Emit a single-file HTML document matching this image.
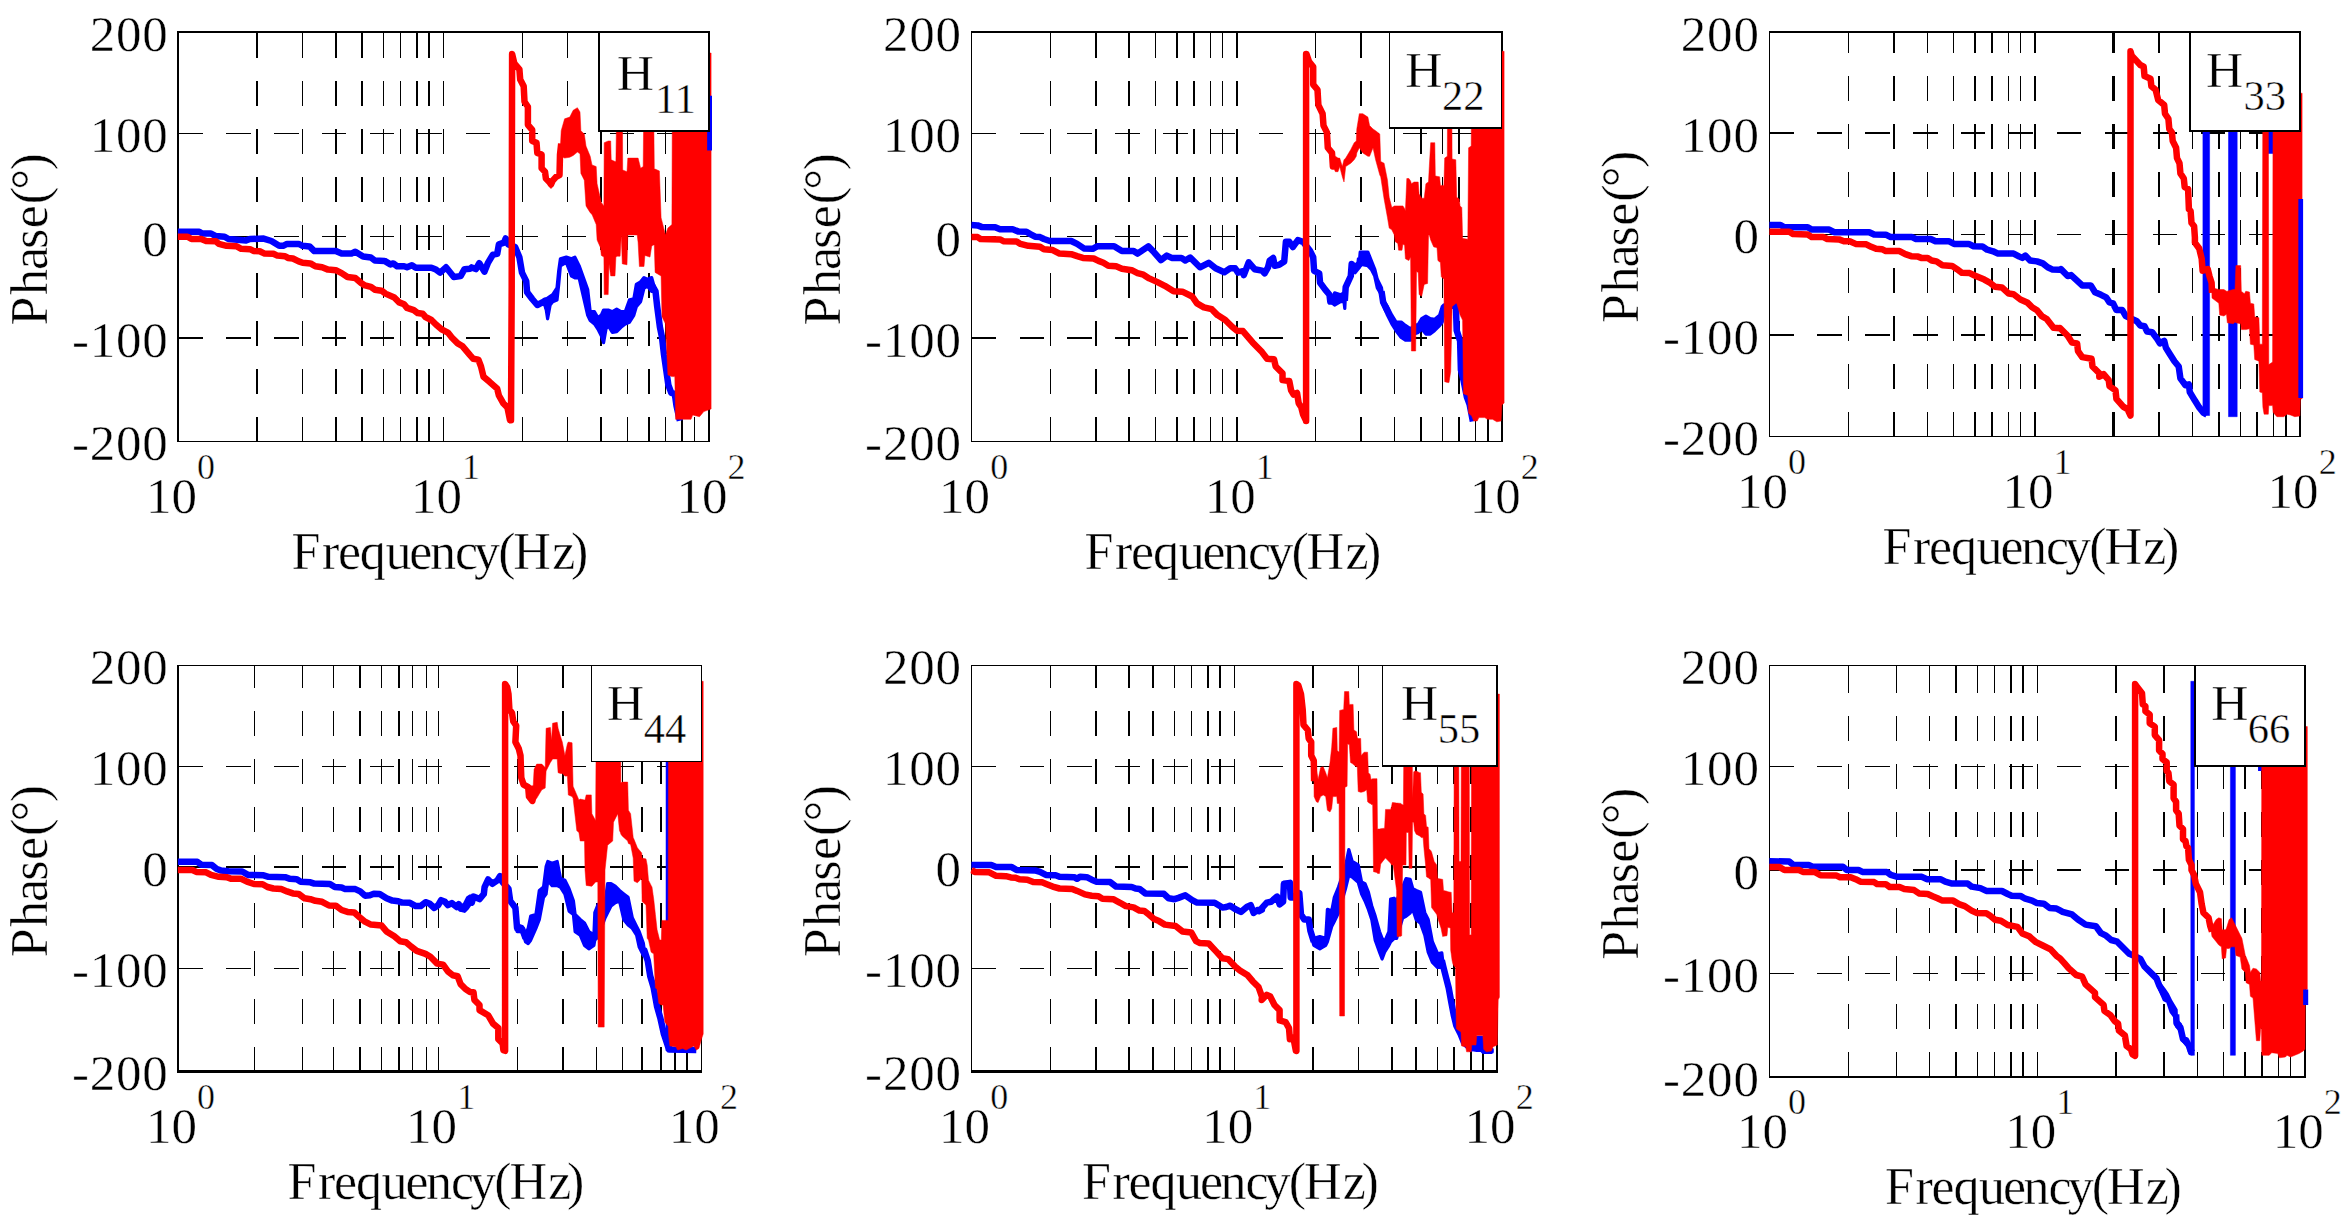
<!DOCTYPE html>
<html><head><meta charset="utf-8"><title>Phase plots</title>
<style>html,body{margin:0;padding:0;background:#fff}svg{display:block}text{font-family:"Liberation Serif", "DejaVu Serif", serif;fill:#000;stroke:#fff;stroke-width:0.45px;paint-order:fill stroke}</style></head><body>
<svg width="2351" height="1230" viewBox="0 0 2351 1230">
<rect width="2351" height="1230" fill="#fff"/>
<g id="plot1">
<g stroke="#000" shape-rendering="crispEdges" stroke-dasharray="24.8 23.2" stroke-dashoffset="47.1" fill="none"><line x1="257.1" y1="32.1" x2="257.1" y2="441.3" stroke-width="2.1"/><line x1="302.5" y1="32.1" x2="302.5" y2="441.3" stroke-width="1.25"/><line x1="336" y1="32.1" x2="336" y2="441.3" stroke-width="2.1"/><line x1="361.9" y1="32.1" x2="361.9" y2="441.3" stroke-width="2.1"/><line x1="383.6" y1="32.1" x2="383.6" y2="441.3" stroke-width="1.25"/><line x1="400.4" y1="32.1" x2="400.4" y2="441.3" stroke-width="1.25"/><line x1="416.7" y1="32.1" x2="416.7" y2="441.3" stroke-width="2.1"/><line x1="429" y1="32.1" x2="429" y2="441.3" stroke-width="2.1"/><line x1="443.5" y1="32.1" x2="443.5" y2="441.3" stroke-width="1.25"/><line x1="522.4" y1="32.1" x2="522.4" y2="441.3" stroke-width="1.25"/><line x1="567.5" y1="32.1" x2="567.5" y2="441.3" stroke-width="1.25"/><line x1="600.9" y1="32.1" x2="600.9" y2="441.3" stroke-width="2.1"/><line x1="627.4" y1="32.1" x2="627.4" y2="441.3" stroke-width="1.25"/><line x1="649.4" y1="32.1" x2="649.4" y2="441.3" stroke-width="2.1"/><line x1="665.4" y1="32.1" x2="665.4" y2="441.3" stroke-width="1.25"/><line x1="681.9" y1="32.1" x2="681.9" y2="441.3" stroke-width="1.25"/><line x1="694.4" y1="32.1" x2="694.4" y2="441.3" stroke-width="1.25"/></g>
<g stroke="#000" shape-rendering="crispEdges" stroke-width="1.5" stroke-dasharray="24.3 23.6" fill="none"><line x1="178.4" y1="133.3" x2="709" y2="133.3"/><line x1="178.4" y1="236.7" x2="709" y2="236.7"/><line x1="178.4" y1="337.9" x2="709" y2="337.9"/></g>
<g stroke="#000" shape-rendering="crispEdges"><line x1="178.4" y1="32.1" x2="178.4" y2="441.3" stroke-width="2"/><line x1="709" y1="32.1" x2="709" y2="441.3" stroke-width="1.5"/><line x1="177.4" y1="32.1" x2="709.8" y2="32.1" stroke-width="2"/><line x1="177.4" y1="441.3" x2="709.8" y2="441.3" stroke-width="1.5"/></g>
<clipPath id="c1"><rect x="177.4" y="32.1" width="534.6" height="409.2"/></clipPath>
<g clip-path="url(#c1)" stroke-width="6.5" stroke-linejoin="round" stroke-linecap="butt">
<path d="M542.4,302.4 545,299.8 547.6,298.1 550.1,296.4 552.7,294.7 557,287.8 558.7,270.7 560.4,258.8 566.3,257.1 571.5,258.8 574.9,257.1 579.1,265.6 583.4,277.6 587.7,289.5 590.2,311.7 594.5,311.7 597.9,317.7 601.3,315.1 603.6,310 606,310 608.2,310 612.4,311.7 616.7,309.2 621,311.7 625.2,311.7 629.5,299.8 633.8,298.9 636.3,284.4 640.6,281.8 644,277.6 647.4,279.3 651.7,277.6 655.5,291.3 655.5,291.3 651.7,291.5 647.4,286.3 644,288 640.6,301.7 636.3,306.8 633.8,315.4 629.5,322.2 625.2,323.9 621,327.3 616.7,331.6 612.4,332.4 608.2,325.6 606,329 603.6,342.7 601.3,335.8 597.9,329 594.5,323.9 590.2,320.5 587.7,315.4 583.4,296.6 579.1,277.8 574.9,277.8 571.5,276.1 566.3,262.4 560.4,265.8 558.7,284.6 557,300 552.7,301.7 550.1,305.1 547.6,318.8 545,301.7 542.4,302.4Z" fill="#0000ff" stroke="#0000ff" stroke-width="3.2"/>
<path d="M177.8,231.8 199.3,231.8 202.2,233.5 211,233.5 215.8,236.1 224.6,236.7 228.5,239 240.2,240 246.1,240.4 250,239 263.6,238.6 271.4,241 279.2,245.8 283.1,245.8 287,243.9 298.7,243.9 302.6,245.8 309.5,246.4 314.3,251.1 335.8,251.1 341.6,253.6 351.4,253.6 355.3,251.7 363.1,256.6 370.9,257.5 374.8,260.5 384.6,260.9 390.4,264.4 393.3,263.4 397.2,266.3 404.1,266.3 407,267.3 411.9,265.3 415.8,267.7 431.4,267.7 435.3,269.2 440.1,272.6 446,267.3 453.8,277 460.6,276.1 464.5,269.2 470,268.7 471.6,267.4 475.9,269.1 479.3,263.2 484.4,271.7 487.8,263.2 492.9,254.6 497.2,253.8 498.9,244.4 504,242.7 505.7,238.4 508.3,244.4 515.1,247 519.4,257.2 522,272.6 526.2,281.1 527.1,292.2 532.2,299 537.3,305 542.4,302.4 545,300.7 547.6,308.4M560.4,262.3 566.3,259.8 571.5,267.4M651.7,284.5 655.5,291.3 657.2,306.7 659.9,327.2 662,337.4 664,354.5 666.2,369.9 668.4,385.2 671.3,392.9 674.8,393.8 676.5,405.7 679.9,420.8" fill="none" stroke="#0000ff"/>
<path d="M545.9,178.5 549.3,180.2 551,180.2 552.7,179.4 556.1,176.8 556.1,176.8 552.7,182 551,188.8 549.3,183.7 545.9,178.5ZM560,154.6 561.2,130.7 564.6,118.8 569.8,117.1 573.2,110.2 577.4,107.7 580,112 580.9,130.7 584.3,134.1 586,146.1 590.2,156.3 592,164.9 596.2,166.6 597.1,183.7 600.5,199 601.3,202.4 603.9,205.9 604.2,142.7 608.2,141 609,141 610.7,141 611.2,159.8 615,161.5 615.9,161.5 617.1,81.2 620.1,81.2 621.3,81.2 622.3,81.2 622.7,170 627,171.7 627.8,158.1 637.2,158.1 638.1,158.1 639.4,163.2 640.6,168.3 643.2,166.6 644,81.2 644.9,81.2 650,81.2 651.7,81.2 653.4,81.2 654.3,169.1 655.1,169.1 659.4,170.9 661.1,217.8 662,221.2 665.4,234.9 667.9,228.1 671.9,224.6 672.5,53 674.8,53 675.6,53 691,53 692.7,53 699.5,53 703.8,53 711.1,53 711.1,409 703.8,411.6 699.5,416.7 692.7,415 691,419.3 675.6,419.3 674.8,376.6 672.5,376.6 671.9,376.6 667.9,374.9 665.4,323.7 662,316.8 661.1,275.9 659.4,275 655.1,272.4 654.3,245.1 653.4,245.1 651.7,246 650,257.1 644.9,255.4 644,266.5 643.2,266.5 640.6,266.5 639.4,266.5 638.1,242.6 637.2,234.9 627.8,234.9 627,264.8 622.7,263.9 622.3,263.9 621.3,234.9 620.1,256.2 617.1,256.2 615.9,257.1 615,275.9 611.2,275.9 610.7,275.9 609,263.9 608.2,294.6 604.2,294.6 603.9,257.1 601.3,255.4 600.5,247.7 597.1,240 596.2,224.6 592,214.4 590.2,212.7 586,205.9 584.3,180.2 580.9,173.4 580,153.8 577.4,152.1 573.2,155.5 569.8,157.2 564.6,158.1 561.2,156.3 560,154.6Z" fill="#ff0000" stroke="#ff0000" stroke-width="0.5"/>
<path d="M177.8,236.7 187.6,236.7 191.5,239 201.2,239 206.1,241 215.8,241.3 218.8,243.9 226.6,245.8 236.3,246.2 241.2,248.8 250,249.2 253.9,251.1 259.7,251.3 264.6,253.6 273.4,253.8 277.3,255.6 285.1,256.2 288,257.9 292.9,258.5 298.7,261.4 302.6,262.8 310.4,263.4 315.3,266.3 322.1,267.3 328,269.6 335.8,270.2 341.6,273.1 347.5,277 355.3,278 361.1,282.9 365,285.4 370.9,286.8 374.8,289.7 381.6,290.7 385.5,293.6 394.3,297.5 399.2,302.4 404.1,304.3 407,307.9 413.8,310.2 417.7,313.1 422.6,313.7 425.5,317 431.4,320 436.2,324.8 442.1,329.7 447.9,332.6 451.8,337.5 457.7,343.4 462.6,346.3 470,355.1 473.3,358.8 478.4,359.6 481,366.5 483.5,376.7 489.5,381.8 497.2,388.7 498.9,395.5 503.2,403.2 507.4,407.4 510,420.2 511,420.2 511.7,286.1 512.1,53.9 514.3,63.3 519.4,69.3 520.2,79.5 523.7,86.3 524.5,101.7 527.9,106.8 527.9,124.8 532.2,129.9 532.2,141 536.5,142.7 537.3,152.9 541.6,154.6 541.6,168.3 545,171.7 545.9,178.5 549.3,182 551,184.5 552.7,180.7 556.1,176.8 559.5,175.1 560,154.6 561.2,143.5" fill="none" stroke="#ff0000"/>
<path d="M710.4,95.7 710.4,150.4" fill="none" stroke="#0000ff"/>
</g>
<rect x="598.9" y="32.1" width="110.1" height="98.9" fill="#fff"/>
<g stroke="#000" shape-rendering="crispEdges"><line x1="598.9" y1="32.1" x2="598.9" y2="131" stroke-width="1.5"/><line x1="598.1" y1="32.1" x2="710" y2="32.1" stroke-width="1.5"/><line x1="709" y1="32.1" x2="709" y2="131" stroke-width="2"/><line x1="598.1" y1="131" x2="710" y2="131" stroke-width="2.5"/></g>
<text x="616.7" y="90" font-size="51.5">H</text>
<text x="655" y="113.2" font-size="42.5">11</text>
<text x="168.6" y="50.9" font-size="51" text-anchor="end" letter-spacing="0.8">200</text>
<text x="168.6" y="152.1" font-size="51" text-anchor="end" letter-spacing="0.8">100</text>
<text x="168.6" y="255.5" font-size="51" text-anchor="end" letter-spacing="0.8">0</text>
<text x="168.6" y="356.7" font-size="51" text-anchor="end" letter-spacing="0.8">-100</text>
<text x="168.6" y="460.1" font-size="51" text-anchor="end" letter-spacing="0.8">-200</text>
<text x="145.9" y="512.9" font-size="51">10</text>
<text x="197" y="478.9" font-size="36">0</text>
<text x="411" y="512.9" font-size="51">10</text>
<text x="462.1" y="478.9" font-size="36">1</text>
<text x="676.5" y="512.9" font-size="51">10</text>
<text x="727.6" y="478.9" font-size="36">2</text>
<text x="291.4 321.9 337.9 359.8 385.5 409.3 429.9 454.9 474 498.2 513.3 552.2 570.9" y="568.8" font-size="52">Frequency(Hz)</text>
<text transform="translate(46.8 325.4) rotate(-90)" x="0 30.3 55.3 76.5 97.1 121.1 135.6 154.9" y="0" font-size="52">Phase(°)</text>
</g>
<g id="plot2">
<g stroke="#000" shape-rendering="crispEdges" stroke-dasharray="24.8 23.2" stroke-dashoffset="47.1" fill="none"><line x1="1050.4" y1="32.1" x2="1050.4" y2="441.3" stroke-width="1.25"/><line x1="1095.9" y1="32.1" x2="1095.9" y2="441.3" stroke-width="2.1"/><line x1="1129" y1="32.1" x2="1129" y2="441.3" stroke-width="2.1"/><line x1="1155.4" y1="32.1" x2="1155.4" y2="441.3" stroke-width="1.25"/><line x1="1177" y1="32.1" x2="1177" y2="441.3" stroke-width="2.1"/><line x1="1194" y1="32.1" x2="1194" y2="441.3" stroke-width="2.1"/><line x1="1210.2" y1="32.1" x2="1210.2" y2="441.3" stroke-width="1.25"/><line x1="1222.5" y1="32.1" x2="1222.5" y2="441.3" stroke-width="1.25"/><line x1="1237.2" y1="32.1" x2="1237.2" y2="441.3" stroke-width="2.1"/><line x1="1315.7" y1="32.1" x2="1315.7" y2="441.3" stroke-width="1.25"/><line x1="1360.8" y1="32.1" x2="1360.8" y2="441.3" stroke-width="2.1"/><line x1="1394.6" y1="32.1" x2="1394.6" y2="441.3" stroke-width="1.25"/><line x1="1421" y1="32.1" x2="1421" y2="441.3" stroke-width="2.1"/><line x1="1442.4" y1="32.1" x2="1442.4" y2="441.3" stroke-width="1.25"/><line x1="1459.2" y1="32.1" x2="1459.2" y2="441.3" stroke-width="2.1"/><line x1="1475.6" y1="32.1" x2="1475.6" y2="441.3" stroke-width="1.25"/><line x1="1488.1" y1="32.1" x2="1488.1" y2="441.3" stroke-width="1.25"/></g>
<g stroke="#000" shape-rendering="crispEdges" stroke-width="1.5" stroke-dasharray="24.3 23.6" fill="none"><line x1="971.6" y1="133.3" x2="1502.2" y2="133.3"/><line x1="971.6" y1="236.7" x2="1502.2" y2="236.7"/><line x1="971.6" y1="337.9" x2="1502.2" y2="337.9"/></g>
<g stroke="#000" shape-rendering="crispEdges"><line x1="971.6" y1="32.1" x2="971.6" y2="441.3" stroke-width="1.2"/><line x1="1502.2" y1="32.1" x2="1502.2" y2="441.3" stroke-width="2"/><line x1="971" y1="32.1" x2="1503.2" y2="32.1" stroke-width="2"/><line x1="971" y1="441.3" x2="1503.2" y2="441.3" stroke-width="1.5"/></g>
<clipPath id="c2"><rect x="970.6" y="32.1" width="534.6" height="409.2"/></clipPath>
<g clip-path="url(#c2)" stroke-width="6.5" stroke-linejoin="round" stroke-linecap="butt">
<path d="M1330.3,301.6 1334.6,292.9 1340.6,294.7 1344,292.9 1344.8,292.9 1345.7,284.4 1350.8,276 1350.8,276 1345.7,289.7 1344.8,308.5 1344,301.7 1340.6,301.7 1334.6,305.1 1330.3,301.6ZM1351.7,264 1355.1,264.8 1359.3,262.2 1360.2,252 1367.9,252 1371.3,260.5 1374.7,269 1377.3,279.3 1381.5,287.8 1383.2,299.8 1387.5,306.6 1391.8,315.1 1396.1,322 1401.2,322 1405.4,325.4 1410.6,328.8 1414,325.4 1418.2,324.5 1421.7,318.6 1425.9,316 1430.2,318.6 1434.5,319.4 1439.6,315.1 1442.2,306.6 1443.9,304.9 1453.2,305 1453.2,305 1443.9,313.6 1442.2,322.2 1439.6,325.6 1434.5,330.7 1430.2,334.1 1425.9,334.1 1421.7,329 1418.2,332.4 1414,334.1 1410.6,340.1 1405.4,340.1 1401.2,337.5 1396.1,330.7 1391.8,323.9 1387.5,315.4 1383.2,305.1 1381.5,294.9 1377.3,288 1374.7,276.1 1371.3,269.3 1367.9,265.8 1360.2,264.1 1359.3,267.5 1355.1,272.7 1351.7,264Z" fill="#0000ff" stroke="#0000ff" stroke-width="3.2"/>
<path d="M971.4,225 977.6,225.4 981.5,226.9 995.2,227.3 1000,229.3 1012.7,229.3 1018.6,231.6 1026.4,231.8 1030.3,234.1 1035.1,236.7 1040,237.1 1043.9,239 1049.8,241 1071.2,241 1077.1,243.9 1083.9,248.4 1092.7,248.8 1097.6,246.2 1114.1,246.2 1121.9,251.1 1133.6,251.1 1137.5,253.6 1148.3,246.4 1154.1,252.3 1160.9,260.1 1166.8,255.6 1171.7,257.9 1181.4,257.9 1185.3,260.5 1190.2,257.5 1200,267.3 1208.7,262.8 1215.6,268.3 1224.3,272.2 1230.2,268.3 1235.1,268.3 1238,272.6 1242.9,271.2 1243.8,275.1 1248.7,262.4 1254.6,269.2 1262,270.6 1264.6,273.4 1268,267.4 1269.7,260.6 1273.1,258 1274.8,265.7 1279.1,264.9 1284.2,261.5 1285.9,241.8 1289.3,241.8 1292.8,247 1297.9,240.1 1303,241.8 1309.8,250.4 1313.2,257.2 1314.1,270.9 1319.2,273.4 1320.1,282.8 1325.2,289.6 1329.5,294.8 1330.3,301.6 1334.6,299M1344.8,300.7 1345.7,287.1 1350.8,276 1351.7,264 1355.1,268.7 1359.3,264.9 1360.2,258M1381.5,291.3 1383.2,302.4 1387.5,311M1443.9,309.3 1453.2,305 1455.8,303.3 1456.7,330.6 1460.1,340.9 1460.9,369.9 1463.5,380.1 1466.9,397.2 1469.5,404 1472.9,421.4" fill="none" stroke="#0000ff"/>
<path d="M1332.9,166.6 1335.4,156.3 1338,158.1 1339.7,158.1 1342.3,166.6 1344,159.8 1345.7,158.1 1350.8,149.5 1354.2,142.7 1356.3,141 1356.8,129 1359.3,113.7 1362.8,113.7 1367.9,117.1 1369.6,125.6 1373,129 1375.6,130.7 1379.8,134.1 1380.7,161.5 1384.1,163.2 1387.5,180.2 1389.2,197.3 1391.8,207.6 1394.3,205.9 1395.2,205.9 1397.8,205.9 1398.6,205.9 1402,205.9 1402.9,205.9 1404.6,208.4 1405.4,211 1406.8,178.5 1408.9,178.5 1410.6,181.1 1411.4,183.7 1414,182 1415.7,182 1416.5,182 1418.2,182 1419.1,193.9 1421.7,198.2 1424.2,198.2 1425.9,183.7 1427.6,182.5 1428.5,182 1429.3,166.6 1430.7,142.7 1433.6,142.7 1434.8,142.7 1435.3,176 1437,176.3 1437.9,176.5 1439.6,176.8 1440.4,185.4 1441.3,185.4 1443.9,185.4 1444.7,158.1 1447.3,156.3 1447.8,53 1449,53 1450.7,53 1451.5,53 1452.1,158.9 1455.8,159.8 1456.7,197.3 1459.2,199 1460.1,205.9 1461.8,207.6 1462.6,238.3 1463.5,238.6 1467.8,239.2 1468.6,147.8 1471.2,146.1 1471.7,53 1473.7,53 1477.2,53 1478.9,53 1484.8,53 1487.4,53 1492.5,53 1496.8,53 1501.1,53 1501.9,51.3 1504.1,51.3 1504.1,403.1 1501.9,404.8 1501.1,421 1496.8,421.8 1492.5,419.3 1487.4,419.3 1484.8,417.6 1478.9,417.6 1477.2,421 1473.7,421 1471.7,415.9 1471.2,415.5 1468.6,413.3 1467.8,395.4 1463.5,393.7 1462.6,320.3 1461.8,318.5 1460.1,315.1 1459.2,311.7 1456.7,303.2 1455.8,303.5 1452.1,306.6 1451.5,337.3 1450.7,371.5 1449,382.6 1447.8,382.6 1447.3,382.4 1444.7,381.7 1443.9,279.3 1441.3,276.7 1440.4,262.2 1439.6,261.9 1437.9,260.5 1437,247.7 1435.3,247.3 1434.8,247.2 1433.6,246.8 1430.7,240 1429.3,234.9 1428.5,234.9 1427.6,283.5 1425.9,283.9 1424.2,284.4 1421.7,296.3 1419.1,294.6 1418.2,272.4 1416.5,271.6 1415.7,351 1414,351 1411.4,351 1410.6,257.1 1408.9,260.5 1406.8,259.6 1405.4,258.8 1404.6,245.1 1402.9,244.3 1402,250.2 1398.6,250.2 1397.8,243.4 1395.2,241.7 1394.3,234.9 1391.8,229.8 1389.2,228.1 1387.5,217.8 1384.1,199 1380.7,176.8 1379.8,175.1 1375.6,159.8 1373,147.8 1369.6,156.3 1367.9,156.3 1362.8,152.9 1359.3,147.8 1356.8,152.9 1356.3,156.3 1354.2,159.8 1350.8,163.2 1345.7,166.6 1344,182 1342.3,176.8 1339.7,166.6 1338,171.7 1335.4,171.7 1332.9,166.6Z" fill="#ff0000" stroke="#ff0000" stroke-width="0.5"/>
<path d="M971.4,237.1 977.6,237.1 980.5,239 1000,239.4 1003.9,241.3 1016.6,241.5 1020.5,243.9 1028.3,245.8 1040,246.8 1043.9,249.3 1052.7,250.1 1059.5,253.6 1071.2,254.2 1077.1,256.2 1082.9,257.9 1093.7,258.5 1098.5,260.9 1103.4,262.8 1108.3,265.7 1116.1,266.3 1121.9,268.7 1131.7,270.2 1137.5,273.1 1143.4,274.7 1149.2,278.4 1157,281.9 1164.8,285.8 1173.6,291.3 1182.4,291.7 1192.2,296.5 1197,303.4 1203.9,307.3 1211.7,309.2 1217.5,315.1 1225.3,320 1232.1,326.8 1237,330.7 1242.9,331.1 1252.6,342.4 1262,352.1 1267.1,358.8 1274,359.3 1275.7,366.5 1282.5,373.3 1282.5,380.1 1289.3,381 1291.1,390.4 1293.6,394.6 1297,392.9 1298.7,403.2 1301.3,407.4 1303,414.3 1306.1,420.8 1306.1,421 1306.1,53.9 1306.4,53.9 1309,61.6 1313.2,66.7 1313.2,84.6 1317.5,89.8 1318.4,105.1 1322.6,113.7 1323.5,125.6 1326.9,132.4 1327.8,147.8 1332,152.9 1332.9,166.6 1335.4,164" fill="none" stroke="#ff0000"/>
</g>
<rect x="1389.5" y="32.1" width="111.8" height="95.9" fill="#fff"/>
<g stroke="#000" shape-rendering="crispEdges"><line x1="1389.5" y1="32.1" x2="1389.5" y2="128" stroke-width="1.5"/><line x1="1388.8" y1="32.1" x2="1502" y2="32.1" stroke-width="1.5"/><line x1="1501.3" y1="32.1" x2="1501.3" y2="128" stroke-width="1.5"/><line x1="1388.8" y1="128" x2="1502" y2="128" stroke-width="1.5"/></g>
<text x="1405.2" y="87" font-size="51.5">H</text>
<text x="1442.1" y="109.8" font-size="42.5">22</text>
<text x="961.8" y="50.9" font-size="51" text-anchor="end" letter-spacing="0.8">200</text>
<text x="961.8" y="152.1" font-size="51" text-anchor="end" letter-spacing="0.8">100</text>
<text x="961.8" y="255.5" font-size="51" text-anchor="end" letter-spacing="0.8">0</text>
<text x="961.8" y="356.7" font-size="51" text-anchor="end" letter-spacing="0.8">-100</text>
<text x="961.8" y="460.1" font-size="51" text-anchor="end" letter-spacing="0.8">-200</text>
<text x="939.1" y="512.9" font-size="51">10</text>
<text x="990.2" y="478.9" font-size="36">0</text>
<text x="1204.7" y="512.9" font-size="51">10</text>
<text x="1255.8" y="478.9" font-size="36">1</text>
<text x="1469.7" y="512.9" font-size="51">10</text>
<text x="1520.8" y="478.9" font-size="36">2</text>
<text x="1084.6 1115.1 1131.1 1153 1178.7 1202.5 1223.1 1248.1 1267.2 1291.4 1306.5 1345.4 1364.1" y="568.8" font-size="52">Frequency(Hz)</text>
<text transform="translate(840 325.4) rotate(-90)" x="0 30.3 55.3 76.5 97.1 121.1 135.6 154.9" y="0" font-size="52">Phase(°)</text>
</g>
<g id="plot3">
<g stroke="#000" shape-rendering="crispEdges" stroke-dasharray="24.8 23.2" stroke-dashoffset="4.1" fill="none"><line x1="1848.4" y1="32.1" x2="1848.4" y2="436.4" stroke-width="1.25"/><line x1="1893.6" y1="32.1" x2="1893.6" y2="436.4" stroke-width="2.1"/><line x1="1927.4" y1="32.1" x2="1927.4" y2="436.4" stroke-width="1.25"/><line x1="1953.4" y1="32.1" x2="1953.4" y2="436.4" stroke-width="1.25"/><line x1="1974.9" y1="32.1" x2="1974.9" y2="436.4" stroke-width="2.1"/><line x1="1992" y1="32.1" x2="1992" y2="436.4" stroke-width="2.1"/><line x1="2008.5" y1="32.1" x2="2008.5" y2="436.4" stroke-width="1.25"/><line x1="2020.7" y1="32.1" x2="2020.7" y2="436.4" stroke-width="1.25"/><line x1="2035" y1="32.1" x2="2035" y2="436.4" stroke-width="2.1"/><line x1="2113.5" y1="32.1" x2="2113.5" y2="436.4" stroke-width="2.1"/><line x1="2158.9" y1="32.1" x2="2158.9" y2="436.4" stroke-width="2.1"/><line x1="2192.2" y1="32.1" x2="2192.2" y2="436.4" stroke-width="1.25"/><line x1="2219" y1="32.1" x2="2219" y2="436.4" stroke-width="2.1"/><line x1="2240.7" y1="32.1" x2="2240.7" y2="436.4" stroke-width="1.25"/><line x1="2257.4" y1="32.1" x2="2257.4" y2="436.4" stroke-width="2.1"/><line x1="2273.5" y1="32.1" x2="2273.5" y2="436.4" stroke-width="1.25"/><line x1="2286" y1="32.1" x2="2286" y2="436.4" stroke-width="1.25"/></g>
<g stroke="#000" shape-rendering="crispEdges" stroke-width="1.5" stroke-dasharray="24.3 23.6" fill="none"><line x1="1769.5" y1="133.2" x2="2300.1" y2="133.2"/><line x1="1769.5" y1="234.5" x2="2300.1" y2="234.5"/><line x1="1769.5" y1="335.2" x2="2300.1" y2="335.2"/></g>
<g stroke="#000" shape-rendering="crispEdges"><line x1="1769.5" y1="32.1" x2="1769.5" y2="436.4" stroke-width="1.2"/><line x1="2300.1" y1="32.1" x2="2300.1" y2="436.4" stroke-width="2"/><line x1="1768.9" y1="32.1" x2="2301.1" y2="32.1" stroke-width="2"/><line x1="1768.9" y1="436.4" x2="2301.1" y2="436.4" stroke-width="1.5"/></g>
<clipPath id="c3"><rect x="1768.5" y="32.1" width="534.6" height="404.3"/></clipPath>
<g clip-path="url(#c3)" stroke-width="6.5" stroke-linejoin="round" stroke-linecap="butt">
<path d="M1769.4,225 1780.5,225 1784.4,227.3 1807.8,227.3 1811.7,229.6 1829.2,229.6 1834.1,232.2 1869.2,232.2 1874.1,234.5 1885.8,234.7 1890.7,237.1 1912.1,237.1 1916,239 1930.7,239 1935.5,241.3 1949.2,241.3 1954.1,243.9 1968.7,243.9 1973.6,246.2 1982.4,246.4 1987.2,249.7 1993.1,251.3 1998,253.6 2013.6,253.6 2019.4,256.6 2022.3,257.9 2025.3,255.6 2030.1,260.5 2037,261.4 2042.8,263.4 2047.7,267.3 2052.6,269.6 2060,269.8 2060.9,269.1 2067.7,276 2071.1,275.1 2082.2,285.4 2090.8,285.4 2095,292.2 2101,294.8 2106.1,297.3 2109.5,302.4 2113,303.3 2116.4,310.1 2122.3,310.1 2125.8,316.1 2136.9,321.2 2140.3,325.5 2144.5,326.3 2147.1,331.5 2152.2,332.3 2157.3,339.1 2159.9,343.4 2164.2,340.9 2165.9,347.7 2170.1,354.5 2174.4,361.3 2178.7,366.5 2180.4,378.4 2185.5,385.2 2188.9,384.4 2189.8,392.1 2194.9,400.6 2199.2,407.4 2203.4,412.6 2206.9,414.6" fill="none" stroke="#0000ff"/>
<path d="M2228.5,51.3 2237.2,51.3 2237.2,416.7 2228.5,416.7Z" fill="#0000ff" stroke="#0000ff" stroke-width="0.5"/>
<path d="M2271.2,81.2 2271.2,153.8" fill="none" stroke="#0000ff"/>
<path d="M2202.9,51.3 2209.6,51.3 2209.6,415.5 2202.9,415.5Z" fill="#0000ff" stroke="#0000ff" stroke-width="0.5"/>
<path d="M2211.6,282.7 2212,287.8 2218.8,289.5 2219.7,289.5 2223.9,289.5 2226.5,291.2 2227.3,291.2 2233.3,289.5 2235,289.5 2235.9,265.6 2240.7,265.6 2241.3,291.2 2244.4,293.8 2245.8,291.2 2249.5,292.1 2250.4,303.2 2253.8,304 2254.7,316.8 2258.9,317.7 2259.8,344.2 2262.3,344.2 2262.9,51.3 2264.1,51.3 2268.3,51.3 2268.8,364.6 2272.6,362.1 2273.1,51.3 2276.9,51.3 2283.7,51.3 2287.1,51.3 2290.5,51.3 2294.8,51.3 2299.9,51.3 2300.4,93.2 2302.1,93.2 2302.1,398.8 2300.4,398.8 2299.9,415.9 2294.8,416.7 2290.5,415 2287.1,414.2 2283.7,416.7 2276.9,416.7 2273.1,412.4 2272.6,405.6 2268.8,405.6 2268.3,414.2 2264.1,414.2 2262.9,407.3 2262.3,392.8 2259.8,392 2258.9,361.2 2254.7,359.5 2253.8,345 2250.4,344.2 2249.5,328.8 2245.8,329.6 2244.4,329.6 2241.3,329.6 2240.7,323.7 2235.9,322.8 2235,322 2233.3,323.7 2227.3,322.8 2226.5,314.3 2223.9,316 2219.7,315.1 2218.8,303.2 2212,298.1 2211.6,282.7Z" fill="#ff0000" stroke="#ff0000" stroke-width="0.5"/>
<path d="M1769.4,231.8 1789.3,231.8 1793.2,234.1 1807.8,234.5 1811.7,237.1 1823.4,237.1 1827.3,239 1839,239.4 1843.9,241.3 1849.7,241.3 1855.6,243.9 1866.3,244.3 1871.2,246.8 1876.1,248.8 1881.9,249.2 1885.8,251.1 1899.5,251.1 1905.3,254.2 1911.2,256.2 1918,256.6 1921.9,258.1 1927.7,258.1 1931.6,260.5 1936.5,261.4 1942.4,265.3 1952.1,265.9 1957,269.2 1961.9,272.8 1969.7,273.1 1974.6,275.5 1984.3,279.6 1990.2,282.9 1995,286.8 2001.9,287.4 2008.7,293.6 2013.6,294.2 2020.4,299.5 2027.2,302.4 2032.1,307.3 2037,310.2 2041.8,316.1 2046.7,319 2053.5,327.8 2060,328.3 2060,328.1 2067.7,335.7 2072,342.6 2077.1,343.4 2078,351.1 2082.2,357.1 2091.6,358.8 2092.5,366.5 2099.3,373.3 2099.3,376.7 2103.6,374.1 2108.7,380.1 2109.5,386.1 2115.5,390.4 2116.4,398.9 2123.2,406.6 2127.5,409.2 2130.5,415.6 2130.5,415.5 2130.5,51.3 2131.7,55.6 2140.3,65 2143.7,66.7 2144.5,76.1 2150.5,78.7 2151.4,86.3 2155.6,89.8 2158.2,100 2164.2,105.1 2165,113.7 2168.4,118.8 2169.3,129 2171.9,132.4 2172.7,141 2176.1,147.8 2177,158.1 2179.5,163.2 2180.4,173.4 2183.8,178.5 2184.7,187.1 2188.1,188.8 2188.9,209.3 2190.6,211 2191.5,222.9 2194.1,226.3 2194.9,237.4 2194.9,242.6 2199.2,248.5 2201.7,258.8 2202.6,270.7 2207.7,269 2209.4,275.9 2211.6,282.7 2212,292.9" fill="none" stroke="#ff0000"/>
<path d="M2301.6,199 2301.6,397.9" fill="none" stroke="#0000ff"/>
</g>
<rect x="2190" y="32.1" width="110.1" height="98.9" fill="#fff"/>
<g stroke="#000" shape-rendering="crispEdges"><line x1="2190" y1="32.1" x2="2190" y2="131" stroke-width="2.5"/><line x1="2188.8" y1="32.1" x2="2301.3" y2="32.1" stroke-width="1.5"/><line x1="2300.1" y1="32.1" x2="2300.1" y2="131" stroke-width="2.5"/><line x1="2188.8" y1="131" x2="2301.3" y2="131" stroke-width="2.5"/></g>
<text x="2206" y="87.4" font-size="51.5">H</text>
<text x="2243.4" y="110" font-size="42.5">33</text>
<text x="1759.7" y="50.9" font-size="51" text-anchor="end" letter-spacing="0.8">200</text>
<text x="1759.7" y="152" font-size="51" text-anchor="end" letter-spacing="0.8">100</text>
<text x="1759.7" y="253.3" font-size="51" text-anchor="end" letter-spacing="0.8">0</text>
<text x="1759.7" y="354" font-size="51" text-anchor="end" letter-spacing="0.8">-100</text>
<text x="1759.7" y="455.2" font-size="51" text-anchor="end" letter-spacing="0.8">-200</text>
<text x="1737" y="508" font-size="51">10</text>
<text x="1788.1" y="474" font-size="36">0</text>
<text x="2002.5" y="508" font-size="51">10</text>
<text x="2053.6" y="474" font-size="36">1</text>
<text x="2267.6" y="508" font-size="51">10</text>
<text x="2318.7" y="474" font-size="36">2</text>
<text x="1882.5 1913 1929 1950.9 1976.6 2000.4 2021 2046 2065.1 2089.3 2104.4 2143.3 2162" y="563.9" font-size="52">Frequency(Hz)</text>
<text transform="translate(1637.9 322.9) rotate(-90)" x="0 30.3 55.3 76.5 97.1 121.1 135.6 154.9" y="0" font-size="52">Phase(°)</text>
</g>
<g id="plot4">
<g stroke="#000" shape-rendering="crispEdges" stroke-dasharray="24.8 23.2" stroke-dashoffset="2.4" fill="none"><line x1="254.5" y1="665.4" x2="254.5" y2="1071.6" stroke-width="1.25"/><line x1="302.5" y1="665.4" x2="302.5" y2="1071.6" stroke-width="1.25"/><line x1="333.4" y1="665.4" x2="333.4" y2="1071.6" stroke-width="1.25"/><line x1="359.9" y1="665.4" x2="359.9" y2="1071.6" stroke-width="2.1"/><line x1="381.6" y1="665.4" x2="381.6" y2="1071.6" stroke-width="1.25"/><line x1="398.6" y1="665.4" x2="398.6" y2="1071.6" stroke-width="2.1"/><line x1="412.3" y1="665.4" x2="412.3" y2="1071.6" stroke-width="1.25"/><line x1="426.5" y1="665.4" x2="426.5" y2="1071.6" stroke-width="1.25"/><line x1="438.6" y1="665.4" x2="438.6" y2="1071.6" stroke-width="1.25"/><line x1="517.4" y1="665.4" x2="517.4" y2="1071.6" stroke-width="1.25"/><line x1="563" y1="665.4" x2="563" y2="1071.6" stroke-width="2.1"/><line x1="596.5" y1="665.4" x2="596.5" y2="1071.6" stroke-width="1.25"/><line x1="622.7" y1="665.4" x2="622.7" y2="1071.6" stroke-width="1.25"/><line x1="642.1" y1="665.4" x2="642.1" y2="1071.6" stroke-width="2.1"/><line x1="661" y1="665.4" x2="661" y2="1071.6" stroke-width="2.1"/><line x1="675" y1="665.4" x2="675" y2="1071.6" stroke-width="2.1"/><line x1="686.9" y1="665.4" x2="686.9" y2="1071.6" stroke-width="2.1"/></g>
<g stroke="#000" shape-rendering="crispEdges" stroke-width="1.5" stroke-dasharray="24.3 23.6" fill="none"><line x1="178.4" y1="766.3" x2="701.3" y2="766.3"/><line x1="178.4" y1="867.1" x2="701.3" y2="867.1"/><line x1="178.4" y1="968.4" x2="701.3" y2="968.4"/></g>
<g stroke="#000" shape-rendering="crispEdges"><line x1="178.4" y1="665.4" x2="178.4" y2="1071.6" stroke-width="2"/><line x1="701.3" y1="665.4" x2="701.3" y2="1071.6" stroke-width="1.5"/><line x1="177.4" y1="665.4" x2="702" y2="665.4" stroke-width="1.5"/><line x1="177.4" y1="1071.6" x2="702" y2="1071.6" stroke-width="2.5"/></g>
<clipPath id="c4"><rect x="177.4" y="665.4" width="526.9" height="406.2"/></clipPath>
<g clip-path="url(#c4)" stroke-width="6.5" stroke-linejoin="round" stroke-linecap="butt">
<path d="M458.7,904.1 460.6,906.7 464.5,903.8 467.4,897.9 470,896 471.8,902.6 471.8,902.6 470,904.5 467.4,908.4 464.5,911.3 460.6,910.3 458.7,904.1ZM515.4,907.7 517.1,924.7 522.2,926.4 525.6,934.9 528.2,928.1 530.7,916.1 535.9,914.4 539.3,890.5 543.5,887.1 546.1,866.6 547.8,861.5 552.1,863.2 557.2,861.5 560.6,878.6 564.9,880.3 569.1,888.8 573.4,900.7 575.1,914.4 580.2,919.5 584.5,922.9 588.8,931.5 593.9,934.9 594.8,912.7 598.2,904.2 605,902.5 607.6,883.7 611,883.7 615.2,886.2 619.5,890.5 623.8,893.9 628.1,897.3 632.3,917.8 636.6,926.4 639.2,931.5 643.4,943.4 644.3,950.4 644.3,950.4 643.4,955.6 639.2,947.1 636.6,935.1 632.3,928.3 628.1,924.9 623.8,919.7 619.5,901 615.2,902.7 611,906.1 607.6,912.9 605,918 598.2,936.8 594.8,940.2 593.9,945.4 588.8,948.8 584.5,945.4 580.2,935.1 575.1,931.7 573.4,914.6 569.1,911.2 564.9,894.1 560.6,887.3 557.2,885.6 552.1,885.6 547.8,880.5 546.1,894.1 543.5,897.5 539.3,919.7 535.9,928.3 530.7,940.2 528.2,943.6 525.6,941.9 522.2,931.7 517.1,931.7 515.4,907.7Z" fill="#0000ff" stroke="#0000ff" stroke-width="3.2"/>
<path d="M177.8,861.8 197.3,861.8 201.2,864.7 211.9,865.1 216.8,869 220.7,870.4 228.5,871.3 242.2,871.5 248,874.9 263.6,875.3 268.5,876.8 285.1,877.2 290,878.8 296.8,879.2 300.7,881.7 310.4,882.3 314.3,883.6 329.9,884 334.8,887 341.6,887.5 344.6,888.9 355.3,889.1 360.2,891.4 365,895.7 369.9,895.3 373.8,893.8 379.7,894 386.5,898.3 392.4,900.6 398.2,901.2 402.1,902.6 409.9,902.8 415.8,906.1 420.6,906.1 425.5,902.2 429.4,903.5 434.3,908 438.2,905.1 441.1,900.2 445,901.8 447.9,905.1 451.8,903.1 456.7,907 458.7,904.1 460.6,908.5 464.5,907.5M470,900.2 471.8,902.6 473.5,896.6 479.5,899.1 483.8,894 484.6,887.2 488.1,879.5 492.3,883.8 497.4,880.4 500,876.1 502.6,882.1 508.5,888.9 510.2,900.9 515.4,907.7 517.1,928.2 522.2,929 525.6,938.4M643.4,949.5 644.3,950.4 647.7,960.6 650.2,976 653.7,987.9 657.1,1006.7 660.5,1018.7 663.9,1034 667.3,1044.3 669,1049.4 696.3,1049.9" fill="none" stroke="#0000ff"/>
<path d="M669,711.2 669,1051" fill="none" stroke="#0000ff"/>
<path d="M532.4,800.9 534.1,769.3 536.7,764.1 541.8,764.1 545.2,767.6 546.1,728.3 550.4,727.4 551.6,740.2 552.6,723.2 557.2,722.3 558.1,728.3 560.6,736.8 562.3,742 564.9,755.6 567.4,743.7 568.3,742 572.1,742.8 573.1,786.3 576.8,794.9 578.9,800 580.2,799.1 584.5,800 585,800 586.2,794.9 591.3,794.9 591.9,813.7 595.6,820.5 596.5,683.9 597.8,683.9 598.2,683.9 604.2,683.9 605,683.9 607.6,683.9 612.7,683.9 613.5,683.9 617.8,683.9 619.5,683.9 620.4,683.9 620.9,782.9 622.1,782.1 627.7,782.1 628.4,810.2 630.6,813.7 633.2,837.6 634,839.3 637.4,847.8 641.7,852.9 642.1,858.1 646,858.9 647.2,864.9 648.5,880.2 651.1,885.4 652,887.1 653.7,899 655.4,914.4 657.1,929.8 658.8,936.6 659.6,940 661.3,940 661.9,920.4 663.1,920.4 664.8,920.4 668.2,920.4 668.7,683.9 669.9,683.9 675.9,683.9 677.6,683.9 682.7,683.9 686.1,683.9 693.8,683.9 696.3,683.9 698.9,683.9 701.5,681.3 703.2,681.3 703.2,1033.9 701.5,1039 698.9,1048.4 696.3,1050.1 693.8,1045.9 686.1,1050.1 682.7,1048.4 677.6,1050.1 675.9,1046.7 669.9,1045.9 668.7,1035.6 668.2,1026.2 664.8,1022 663.1,1004.9 661.9,1004.9 661.3,1004.9 659.6,1004 658.8,1003.2 657.1,989.5 655.4,987.8 653.7,953.7 652,952.8 651.1,952 648.5,940 647.2,938.3 646,905 642.1,901.6 641.7,878.5 637.4,882.8 634,881.1 633.2,858.1 630.6,844.4 628.4,843.5 627.7,841 622.1,835.9 620.9,834.2 620.4,832.4 619.5,830.7 617.8,813.7 613.5,822.2 612.7,841 607.6,845.2 605,870 604.2,1027.1 598.2,1027.1 597.8,882 596.5,882 595.6,882 591.9,886.2 591.3,886.2 586.2,885.4 585,870 584.5,841 580.2,841 578.9,832.4 576.8,830.7 573.1,798.3 572.1,796.6 568.3,794.9 567.4,776.1 564.9,776.1 562.3,773.5 560.6,773.5 558.1,772.7 557.2,759 552.6,759 551.6,760.7 550.4,762.4 546.1,771 545.2,788.1 541.8,789.8 536.7,798.3 534.1,801.7 532.4,800.9Z" fill="#ff0000" stroke="#ff0000" stroke-width="0.5"/>
<path d="M177.8,870 192.4,870 196.3,871.9 206.1,872.3 211,874.9 218.8,876.8 226.6,877.2 231.4,878.8 241.2,878.8 247,881.7 253.9,884 262.6,884.2 267.5,887 273.4,888.5 281.2,889.1 287,891.4 292.9,893.4 298.7,894 304.6,898.3 310.4,899.2 315.3,900.8 322.1,901.8 329,905.5 335.8,905.7 341.6,910 347.5,911.9 354.3,912.5 360.2,917.8 365,921.7 370.9,924.6 381.6,925.6 386.5,931.4 394.3,936.3 400.2,941.2 406,942.2 410.9,946.4 416.7,950.9 425.5,953.9 430.4,956.8 437.2,963.6 443.1,964.6 447.9,971.4 452.8,975.3 457.7,976.3 460.6,984.1 465.5,989 470,991.9 473.5,992.2 474.4,999.9 479.5,1005 479.5,1010.1 488.1,1015.2 493.2,1023.8 498.3,1028.1 498.3,1039.2 502.6,1043.4 503.4,1050.2 505.1,1050.8 505.1,1050.6 505.1,683.9 507.2,687.3 508.5,694.1 509.4,709.5 512,712.9 513.3,721.5 516.2,725.7 515.4,742 518.8,748.8 520.5,755.6 521.3,777.8 523.6,784.6 528.2,787.2 529,796.6 532.4,800.9 534.1,785.5" fill="none" stroke="#ff0000"/>
</g>
<rect x="591.5" y="665.4" width="109.8" height="96" fill="#fff"/>
<g stroke="#000" shape-rendering="crispEdges"><line x1="591.5" y1="665.4" x2="591.5" y2="761.4" stroke-width="1.5"/><line x1="590.8" y1="665.4" x2="702" y2="665.4" stroke-width="1.5"/><line x1="701.3" y1="665.4" x2="701.3" y2="761.4" stroke-width="1.5"/><line x1="590.8" y1="761.4" x2="702" y2="761.4" stroke-width="1.5"/></g>
<text x="606.9" y="719.9" font-size="51.5">H</text>
<text x="643.8" y="742.9" font-size="42.5">44</text>
<text x="168.6" y="684.2" font-size="51" text-anchor="end" letter-spacing="0.8">200</text>
<text x="168.6" y="785.1" font-size="51" text-anchor="end" letter-spacing="0.8">100</text>
<text x="168.6" y="885.9" font-size="51" text-anchor="end" letter-spacing="0.8">0</text>
<text x="168.6" y="987.2" font-size="51" text-anchor="end" letter-spacing="0.8">-100</text>
<text x="168.6" y="1090.4" font-size="51" text-anchor="end" letter-spacing="0.8">-200</text>
<text x="145.9" y="1143.2" font-size="51">10</text>
<text x="197" y="1109.2" font-size="36">0</text>
<text x="406.1" y="1143.2" font-size="51">10</text>
<text x="457.2" y="1109.2" font-size="36">1</text>
<text x="668.8" y="1143.2" font-size="51">10</text>
<text x="719.9" y="1109.2" font-size="36">2</text>
<text x="287.5 318 334 355.9 381.6 405.4 426 451 470.1 494.3 509.4 548.3 567" y="1199.1" font-size="52">Frequency(Hz)</text>
<text transform="translate(46.8 957.2) rotate(-90)" x="0 30.3 55.3 76.5 97.1 121.1 135.6 154.9" y="0" font-size="52">Phase(°)</text>
</g>
<g id="plot5">
<g stroke="#000" shape-rendering="crispEdges" stroke-dasharray="24.8 23.2" stroke-dashoffset="2.4" fill="none"><line x1="1050.4" y1="665.4" x2="1050.4" y2="1071.6" stroke-width="1.25"/><line x1="1095.9" y1="665.4" x2="1095.9" y2="1071.6" stroke-width="2.1"/><line x1="1129" y1="665.4" x2="1129" y2="1071.6" stroke-width="2.1"/><line x1="1153" y1="665.4" x2="1153" y2="1071.6" stroke-width="2.1"/><line x1="1174.4" y1="665.4" x2="1174.4" y2="1071.6" stroke-width="1.25"/><line x1="1191.5" y1="665.4" x2="1191.5" y2="1071.6" stroke-width="1.25"/><line x1="1207.7" y1="665.4" x2="1207.7" y2="1071.6" stroke-width="2.1"/><line x1="1220.1" y1="665.4" x2="1220.1" y2="1071.6" stroke-width="2.1"/><line x1="1234.7" y1="665.4" x2="1234.7" y2="1071.6" stroke-width="1.25"/><line x1="1313" y1="665.4" x2="1313" y2="1071.6" stroke-width="2.1"/><line x1="1358.4" y1="665.4" x2="1358.4" y2="1071.6" stroke-width="1.25"/><line x1="1392.1" y1="665.4" x2="1392.1" y2="1071.6" stroke-width="2.1"/><line x1="1416" y1="665.4" x2="1416" y2="1071.6" stroke-width="2.1"/><line x1="1437.4" y1="665.4" x2="1437.4" y2="1071.6" stroke-width="1.25"/><line x1="1454" y1="665.4" x2="1454" y2="1071.6" stroke-width="2.1"/><line x1="1470.9" y1="665.4" x2="1470.9" y2="1071.6" stroke-width="2.1"/><line x1="1483" y1="665.4" x2="1483" y2="1071.6" stroke-width="2.1"/></g>
<g stroke="#000" shape-rendering="crispEdges" stroke-width="1.5" stroke-dasharray="24.3 23.6" fill="none"><line x1="971.6" y1="766.3" x2="1497.1" y2="766.3"/><line x1="971.6" y1="867.1" x2="1497.1" y2="867.1"/><line x1="971.6" y1="968.4" x2="1497.1" y2="968.4"/></g>
<g stroke="#000" shape-rendering="crispEdges"><line x1="971.6" y1="665.4" x2="971.6" y2="1071.6" stroke-width="1.2"/><line x1="1497.1" y1="665.4" x2="1497.1" y2="1071.6" stroke-width="2"/><line x1="971" y1="665.4" x2="1498.1" y2="665.4" stroke-width="1.5"/><line x1="971" y1="1071.6" x2="1498.1" y2="1071.6" stroke-width="2.5"/></g>
<clipPath id="c5"><rect x="970.6" y="665.4" width="529.5" height="406.2"/></clipPath>
<g clip-path="url(#c5)" stroke-width="6.5" stroke-linejoin="round" stroke-linecap="butt">
<path d="M1308.7,919.6 1310.4,928.1 1313.8,938.3 1319.8,936.6 1325.7,938.3 1327.4,909.3 1331.7,911 1334.3,897.3 1338.5,887.1 1345.4,866.6 1348.8,849.5 1352.2,861.5 1358.2,864.9 1361.6,882 1365,883.7 1368.4,892.2 1371.8,905.9 1375.2,916.1 1379.5,931.5 1382.1,938.3 1384.6,941.7 1388.9,931.5 1390.6,899 1394,898.2 1396.6,900.7 1402.6,887.1 1406,878.6 1410.2,879.4 1412.8,888.8 1416.2,890.5 1420.5,892.2 1424.8,912.7 1428.2,919.5 1432.4,941.7 1437.6,953.7 1441.8,952.8 1443.5,967.4 1443.5,967.4 1441.8,967.5 1437.6,967.5 1432.4,962.4 1428.2,952.2 1424.8,935.1 1420.5,923.2 1416.2,919.7 1412.8,909.5 1410.2,912.9 1406,916.3 1402.6,918 1396.6,938.5 1394,938.5 1390.6,941.9 1388.9,945.4 1384.6,952.2 1382.1,959 1379.5,952.2 1375.2,940.2 1371.8,919.7 1368.4,909.5 1365,901 1361.6,894.1 1358.2,882.2 1352.2,877.1 1348.8,875.4 1345.4,889 1338.5,912.9 1334.3,921.5 1331.7,926.6 1327.4,941.9 1325.7,945.4 1319.8,948.8 1313.8,945.4 1310.4,933.4 1308.7,919.6ZM1464,1042.6 1470.9,1047.6 1476.8,1037.3 1482.8,1037.3 1483.7,1049.4 1492.2,1049.4 1492.2,1052 1483.7,1052 1482.8,1050.4 1476.8,1050.4 1470.9,1049.5 1464,1042.6Z" fill="#0000ff" stroke="#0000ff" stroke-width="3.2"/>
<path d="M971.4,865.1 991.3,865.1 996.1,867.1 1011.7,867.1 1016.6,870 1035.1,870.4 1040,871.9 1045.9,874.9 1055.6,875.3 1059.5,876.8 1074.2,877.2 1077.1,878.8 1080,876.8 1086.8,877.2 1091.7,879.7 1096.6,881.7 1110.2,882.1 1116.1,886.6 1131.7,887 1135.6,888.5 1139.5,888.9 1145.3,893.4 1163.9,893.8 1168.7,898.3 1174.6,899.2 1178.5,897.9 1185.3,895.3 1192.2,900.2 1197,902.6 1214.6,902.8 1222.4,907.6 1226.3,907 1230.2,905.7 1235.1,909 1240.9,911.9 1246.8,907 1250.7,905.1 1253.6,912.9 1257.5,910 1262,909.6 1259.1,911.1 1266.8,902.6 1271.1,901.7 1277.1,896.6 1279.6,904.3 1283.1,901.7 1283.9,883.8 1289.9,882.9 1290.7,897.4 1293.3,897.4 1299.3,893.2 1301,914.5 1304.4,919.6 1308.7,919.6 1310.4,930.7 1313.8,941.8M1441.8,960.2 1443.5,967.4 1446.1,977.7 1448.7,987.9 1451.2,1001.6 1453.8,1015.2 1456.3,1025.5 1460.6,1034 1464,1042.6 1470.9,1048.5 1476.8,1043.8M1482.8,1043.8 1483.7,1050.7 1492.2,1050.7" fill="none" stroke="#0000ff"/>
<path d="M1313.8,760.7 1314.1,765.9 1316.3,769.3 1318.1,779.5 1320.6,767.6 1323.2,766.7 1325.7,772.7 1327.4,777.8 1330,762.4 1331.7,747.1 1332.9,728.3 1336.8,727.4 1337.3,750.5 1339.1,752.2 1339.7,710.4 1343.7,709.5 1344.5,691.6 1345,691.6 1347.1,691.6 1347.6,691.6 1348.8,691.6 1349.3,704.4 1350.5,704.4 1353.1,704.4 1353.9,730 1356.5,731.7 1357.3,737.7 1358.2,738.5 1360.7,738.5 1361.2,755.6 1364.1,752.2 1366.7,752.2 1367.6,752.2 1368.4,772.7 1370.1,774.4 1371,779.5 1372.7,778.7 1373.5,778.7 1377,778.7 1377.5,830.7 1377.8,829 1379.5,829 1380.7,828.7 1384.6,828.2 1385.5,809.4 1390.6,809.4 1391.5,806.8 1392.3,802.6 1393.2,802.6 1396.6,803.1 1397.1,803.1 1400.9,803.4 1401.7,804.3 1402.6,804.8 1403.4,805.1 1404.3,683.9 1406,683.9 1406.3,683.9 1408.5,683.9 1409.1,683.9 1412,683.9 1412.5,798.3 1413.7,771.8 1414.5,771.3 1416.2,771 1419.6,772.7 1420.5,772.7 1421.3,792.3 1423.1,794 1423.9,813.7 1425.6,815.4 1426.5,826.5 1428.2,827.3 1429,848.7 1430.7,850.4 1431.6,852.1 1434.2,861.5 1436.7,864.9 1437.6,878.5 1441,879.1 1442.7,879.4 1443.5,890.5 1447,891.3 1447.8,891.7 1450.4,892.2 1450.7,892.2 1451.2,892.2 1452.1,912.7 1452.9,912.7 1453.8,912.7 1454.3,683.9 1455.5,683.9 1456.3,683.9 1458.6,683.9 1459.1,861.5 1461,861.5 1461.5,683.9 1465.7,683.9 1466.6,683.9 1469.2,683.9 1469.5,934.9 1471.2,934.9 1471.7,683.9 1476,683.9 1476.8,683.9 1482.8,683.9 1483.7,683.9 1486.2,683.9 1491.3,683.9 1493.1,683.9 1497.3,694.1 1498.2,694.1 1499.4,694.1 1499.4,997.2 1498.2,999.8 1497.3,1045 1493.1,1046.7 1491.3,1051 1486.2,1051.8 1483.7,1049.3 1482.8,1035.6 1476.8,1035.6 1476,1045 1471.7,1045 1471.2,1051.8 1469.5,1051.8 1469.2,1051.8 1466.6,1051.8 1465.7,1046.7 1461.5,1045.9 1461,1031.9 1459.1,1030.8 1458.6,1030.5 1456.3,1028.8 1455.5,967.3 1454.3,966.5 1453.8,965.6 1452.9,963.9 1452.1,960.5 1451.2,953.7 1450.7,950.3 1450.4,928.1 1447.8,927.2 1447,935.7 1443.5,936.3 1442.7,936.6 1441,928.1 1437.6,917.8 1436.7,914.4 1434.2,911 1431.6,907.6 1430.7,879.4 1429,878.5 1428.2,877.7 1426.5,876.8 1425.6,864.9 1423.9,847.8 1423.1,837.6 1421.3,837.6 1420.5,836.7 1419.6,835.9 1416.2,834.2 1414.5,830.7 1413.7,822.2 1412.5,822.2 1412,868.3 1409.1,868.3 1408.5,832.4 1406.3,832.4 1406,864.9 1404.3,864.9 1403.4,864.9 1402.6,864.9 1401.7,935.7 1400.9,936.3 1397.1,936.6 1396.6,890.5 1393.2,864.9 1392.3,864.9 1391.5,864.9 1390.6,863.2 1385.5,858.1 1384.6,858.9 1380.7,864 1379.5,873.4 1377.8,873.4 1377.5,873.4 1377,872.6 1373.5,871.7 1372.7,804.8 1371,804.3 1370.1,803.4 1368.4,802.6 1367.6,801.7 1366.7,789.8 1364.1,791.5 1361.2,792.3 1360.7,792.3 1358.2,791.5 1357.3,766.7 1356.5,766.7 1353.9,765 1353.1,764.1 1350.5,762.4 1349.3,744.5 1348.8,744.5 1347.6,743.7 1347.1,786.3 1345,787.2 1344.5,1016 1343.7,1016 1339.7,1016 1339.1,803.4 1337.3,803.4 1336.8,796.6 1332.9,796.6 1331.7,808.5 1330,812 1327.4,810.2 1325.7,796.6 1323.2,794.9 1320.6,796.6 1318.1,802.6 1316.3,801.7 1314.1,796.6 1313.8,760.7Z" fill="#ff0000" stroke="#ff0000" stroke-width="0.5"/>
<path d="M971.4,870 974.7,871.9 989.3,872.3 996.1,875.8 1005.9,876.2 1010.8,877.4 1015.6,877.8 1019.5,879.3 1027.3,879.7 1033.2,882.1 1042,882.3 1046.8,884.2 1052.7,886.6 1059.5,888.5 1072.2,888.9 1077.1,890.9 1084.9,894.4 1091.7,895.7 1098.5,896.3 1102.4,898.7 1113.2,899.2 1120,902.8 1125.8,906.1 1133.6,907.4 1139.5,910.6 1144.4,910.9 1149.2,914.8 1154.1,919.1 1159,921.1 1164.8,924.6 1175.6,926 1182.4,931.4 1191.2,932.4 1196.1,941.2 1200,943.1 1208.7,943.5 1215.6,950.9 1222.4,958.3 1228.2,959.1 1235.1,966.5 1239.9,970.4 1247.7,975.3 1252.6,981.2 1258.5,987 1262,996.8 1261.7,999.9 1266.8,994.8 1270.2,996.5 1274.5,1005 1279.6,1010.1 1279.6,1020.4 1285.6,1022.1 1289,1028.1 1289.9,1039.2 1293.3,1037.4 1295.9,1050.8 1296.4,1051 1296.4,683.9 1298.4,685.6 1301,694.1 1302.7,709.5 1303.5,724.9 1307.8,730 1308.7,738.5 1311.2,742 1311.2,755.6 1313.8,760.7 1314.1,781.2" fill="none" stroke="#ff0000"/>
</g>
<rect x="1382.7" y="665.4" width="114.4" height="100.9" fill="#fff"/>
<g stroke="#000" shape-rendering="crispEdges"><line x1="1382.7" y1="665.4" x2="1382.7" y2="766.3" stroke-width="1.5"/><line x1="1382" y1="665.4" x2="1498.1" y2="665.4" stroke-width="1.5"/><line x1="1497.1" y1="665.4" x2="1497.1" y2="766.3" stroke-width="2"/><line x1="1382" y1="766.3" x2="1498.1" y2="766.3" stroke-width="2"/></g>
<text x="1401" y="719.9" font-size="51.5">H</text>
<text x="1437.8" y="742.9" font-size="42.5">55</text>
<text x="961.8" y="684.2" font-size="51" text-anchor="end" letter-spacing="0.8">200</text>
<text x="961.8" y="785.1" font-size="51" text-anchor="end" letter-spacing="0.8">100</text>
<text x="961.8" y="885.9" font-size="51" text-anchor="end" letter-spacing="0.8">0</text>
<text x="961.8" y="987.2" font-size="51" text-anchor="end" letter-spacing="0.8">-100</text>
<text x="961.8" y="1090.4" font-size="51" text-anchor="end" letter-spacing="0.8">-200</text>
<text x="939.1" y="1143.2" font-size="51">10</text>
<text x="990.2" y="1109.2" font-size="36">0</text>
<text x="1202.2" y="1143.2" font-size="51">10</text>
<text x="1253.3" y="1109.2" font-size="36">1</text>
<text x="1464.6" y="1143.2" font-size="51">10</text>
<text x="1515.7" y="1109.2" font-size="36">2</text>
<text x="1082 1112.5 1128.5 1150.4 1176.1 1199.9 1220.5 1245.5 1264.6 1288.8 1303.9 1342.8 1361.5" y="1199.1" font-size="52">Frequency(Hz)</text>
<text transform="translate(840 957.2) rotate(-90)" x="0 30.3 55.3 76.5 97.1 121.1 135.6 154.9" y="0" font-size="52">Phase(°)</text>
</g>
<g id="plot6">
<g stroke="#000" shape-rendering="crispEdges" stroke-dasharray="24.8 23.2" stroke-dashoffset="45.3" fill="none"><line x1="1848.4" y1="665.4" x2="1848.4" y2="1076.8" stroke-width="1.25"/><line x1="1896.5" y1="665.4" x2="1896.5" y2="1076.8" stroke-width="1.25"/><line x1="1929.5" y1="665.4" x2="1929.5" y2="1076.8" stroke-width="1.25"/><line x1="1956" y1="665.4" x2="1956" y2="1076.8" stroke-width="2.1"/><line x1="1977.3" y1="665.4" x2="1977.3" y2="1076.8" stroke-width="1.25"/><line x1="1994.4" y1="665.4" x2="1994.4" y2="1076.8" stroke-width="1.25"/><line x1="2010.8" y1="665.4" x2="2010.8" y2="1076.8" stroke-width="2.1"/><line x1="2023" y1="665.4" x2="2023" y2="1076.8" stroke-width="2.1"/><line x1="2037.7" y1="665.4" x2="2037.7" y2="1076.8" stroke-width="1.25"/><line x1="2116.1" y1="665.4" x2="2116.1" y2="1076.8" stroke-width="2.1"/><line x1="2164" y1="665.4" x2="2164" y2="1076.8" stroke-width="2.1"/><line x1="2197.3" y1="665.4" x2="2197.3" y2="1076.8" stroke-width="1.25"/><line x1="2223.7" y1="665.4" x2="2223.7" y2="1076.8" stroke-width="1.25"/><line x1="2245" y1="665.4" x2="2245" y2="1076.8" stroke-width="2.1"/><line x1="2262" y1="665.4" x2="2262" y2="1076.8" stroke-width="2.1"/><line x1="2278.6" y1="665.4" x2="2278.6" y2="1076.8" stroke-width="1.25"/><line x1="2290.3" y1="665.4" x2="2290.3" y2="1076.8" stroke-width="1.25"/></g>
<g stroke="#000" shape-rendering="crispEdges"><line x1="1848.4" y1="665.4" x2="1848.4" y2="669.4" stroke-width="1.25"/><line x1="1896.5" y1="665.4" x2="1896.5" y2="669.4" stroke-width="1.25"/><line x1="1929.5" y1="665.4" x2="1929.5" y2="669.4" stroke-width="1.25"/><line x1="1956" y1="665.4" x2="1956" y2="669.4" stroke-width="2.1"/><line x1="1977.3" y1="665.4" x2="1977.3" y2="669.4" stroke-width="1.25"/><line x1="1994.4" y1="665.4" x2="1994.4" y2="669.4" stroke-width="1.25"/><line x1="2010.8" y1="665.4" x2="2010.8" y2="669.4" stroke-width="2.1"/><line x1="2023" y1="665.4" x2="2023" y2="669.4" stroke-width="2.1"/><line x1="2037.7" y1="665.4" x2="2037.7" y2="669.4" stroke-width="1.25"/><line x1="2116.1" y1="665.4" x2="2116.1" y2="669.4" stroke-width="2.1"/><line x1="2164" y1="665.4" x2="2164" y2="669.4" stroke-width="2.1"/><line x1="2197.3" y1="665.4" x2="2197.3" y2="669.4" stroke-width="1.25"/><line x1="2223.7" y1="665.4" x2="2223.7" y2="669.4" stroke-width="1.25"/><line x1="2245" y1="665.4" x2="2245" y2="669.4" stroke-width="2.1"/><line x1="2262" y1="665.4" x2="2262" y2="669.4" stroke-width="2.1"/><line x1="2278.6" y1="665.4" x2="2278.6" y2="669.4" stroke-width="1.25"/><line x1="2290.3" y1="665.4" x2="2290.3" y2="669.4" stroke-width="1.25"/></g>
<g stroke="#000" shape-rendering="crispEdges" stroke-width="1.5" stroke-dasharray="24.3 23.6" fill="none"><line x1="1769.5" y1="766.3" x2="2305.2" y2="766.3"/><line x1="1769.5" y1="870" x2="2305.2" y2="870"/><line x1="1769.5" y1="973.4" x2="2305.2" y2="973.4"/></g>
<g stroke="#000" shape-rendering="crispEdges"><line x1="1769.5" y1="665.4" x2="1769.5" y2="1076.8" stroke-width="1.2"/><line x1="2305.2" y1="665.4" x2="2305.2" y2="1076.8" stroke-width="2"/><line x1="1768.9" y1="665.4" x2="2306.2" y2="665.4" stroke-width="1.5"/><line x1="1768.9" y1="1076.8" x2="2306.2" y2="1076.8" stroke-width="2.5"/></g>
<clipPath id="c6"><rect x="1768.5" y="665.4" width="539.7" height="411.4"/></clipPath>
<g clip-path="url(#c6)" stroke-width="6.5" stroke-linejoin="round" stroke-linecap="butt">
<path d="M2156.5,978.4 2159.1,982.6 2164.2,989.4 2167.6,994.5 2171,1001.4 2176.1,1009.9 2176.5,1020.1 2180.4,1024.4 2183,1037.2 2187.2,1038.9 2189.8,1044 2192.3,1050.9 2192.3,1053.6 2189.8,1053.6 2187.2,1046 2183,1040.8 2180.4,1030.6 2176.5,1026.3 2176.1,1018.6 2171,1011.8 2167.6,1001.6 2164.2,999.9 2159.1,987.9 2156.5,978.4Z" fill="#0000ff" stroke="#0000ff" stroke-width="3.2"/>
<path d="M1769.4,861.2 1789.3,861.6 1793.2,864.7 1808.8,865.1 1812.7,866.7 1842.9,866.7 1846.8,870 1858.5,870 1862.4,871.9 1886.8,871.9 1890.7,874.9 1897.5,876.8 1921.9,876.8 1926.8,879.2 1940.4,879.2 1945.3,881.7 1952.1,883.6 1967.7,883.6 1971.6,886.6 1980.4,888.1 1986.3,890.9 2001.9,891 2007.7,894 2011.6,895.7 2020.4,895.9 2025.3,898.7 2032.1,900.6 2037,903.1 2043.8,903.7 2049.6,908 2056.5,908.6 2060,910.4 2062.6,911.8 2072,914.4 2078,919.5 2085.6,924.6 2095.9,926.3 2101,933.2 2106.1,935.7 2111.2,940 2117.2,941.7 2123.2,947.7 2129.2,953.7 2133.4,955.4 2140.3,958.8 2144.5,966.5 2150.5,972.4 2156.5,978.4 2159.1,985.2 2164.2,994.6M2176.1,1014.3 2176.5,1023.2 2180.4,1027.5 2183,1039 2187.2,1042.4M2189.8,1048.8 2192.3,1052.3" fill="none" stroke="#0000ff"/>
<path d="M2190.8,681.3 2194.4,681.3 2194.4,1055.3 2190.8,1055.3Z" fill="#0000ff" stroke="#0000ff" stroke-width="0.5"/>
<path d="M2230.4,681.3 2235.4,681.3 2235.4,1055.3 2230.4,1055.3Z" fill="#0000ff" stroke="#0000ff" stroke-width="0.5"/>
<path d="M2261.3,711.2 2261.3,771" fill="none" stroke="#0000ff"/>
<path d="M2210.3,926.3 2212,926.3 2216.2,919.5 2218.8,917.8 2221.4,918.7 2222.2,929.8 2225.6,929.8 2226.5,928.1 2229.1,919.5 2231.6,917.8 2235,924.6 2235.9,926.3 2240.2,934.9 2241.9,938.3 2245.3,955.4 2246.1,957.1 2249.5,965.6 2250.4,972.4 2253,968.2 2256.4,969 2259.8,972.4 2260.6,981 2261.5,981 2261.8,683.9 2269.2,683.9 2271.7,683.9 2277.7,683.9 2279.4,683.9 2285.4,683.9 2287.1,683.9 2290.5,683.9 2294.8,683.9 2299.1,683.9 2303.3,683.9 2305,683.9 2305.4,726.6 2307.3,726.6 2307.3,989.5 2305.4,989.5 2305,1049.3 2303.3,1051 2299.1,1053.5 2294.8,1055.3 2290.5,1057 2287.1,1055.3 2285.4,1057 2279.4,1057.8 2277.7,1053.5 2271.7,1052.7 2269.2,1055.3 2261.8,1055.3 2261.5,1028.8 2260.6,1028.8 2259.8,1040.7 2256.4,1040.7 2253,998.1 2250.4,996.3 2249.5,984.4 2246.1,982.7 2245.3,972.4 2241.9,969 2240.2,957.1 2235.9,955.4 2235,946.8 2231.6,946.8 2229.1,948.5 2226.5,948.5 2225.6,957.9 2222.2,958.8 2221.4,946.8 2218.8,945.1 2216.2,941.7 2212,936.6 2210.3,926.3Z" fill="#ff0000" stroke="#ff0000" stroke-width="0.5"/>
<path d="M1769.4,867.1 1779.5,867.1 1784.4,870 1799,870 1802.9,871.9 1814.6,871.9 1820.5,875.3 1836.1,875.4 1840,877.2 1850.7,877.2 1855.6,879.2 1860.4,881.7 1874.1,882.1 1877,884 1885.8,884.2 1889.7,887 1899.5,887.1 1904.3,889.1 1914.1,890.1 1919,893.4 1927.7,894 1932.6,896.3 1937.5,898.3 1942.4,900.6 1953.1,900.6 1958.9,904.1 1964.8,906.1 1971.6,910.6 1976.5,912.9 1986.3,913.3 1990.2,915.8 1995,919.7 2000.9,920.7 2007.7,925 2017.5,926.9 2022.3,933.4 2029.2,936.3 2036,942.2 2042.8,945.5 2050.6,949.4 2056.5,955.8 2060,958.3 2064.3,963.1 2068.6,968.2 2076.2,975 2082.2,976.7 2085.6,984.4 2095,992.9 2095,997.2 2103.6,1004.9 2104.4,1010.9 2110.4,1015.1 2114.7,1021.1 2118.1,1023.7 2118.9,1030.5 2124.9,1035.6 2126.6,1045.9 2130.9,1049.3 2132.6,1054.4 2135.1,1055.8 2135.1,1055.8 2135.1,683.9 2136,685.6 2142,693.3 2142.8,704.4 2145.4,706.1 2145.4,711.2 2149.7,714.6 2149.7,723.2 2154.8,726.6 2154.8,735.1 2159.1,740.2 2159.1,750.5 2162.5,753.9 2162.5,759 2166.7,762.4 2166.7,771 2168.4,772.7 2169.3,781.2 2173.6,784.6 2173.6,798.3 2176.1,801.7 2176.1,810.2 2178.7,813.7 2179.5,825.6 2183,829 2183,839.3 2185.5,841 2186.4,846.1 2188.1,847.8 2188.9,859.8 2191.5,864.9 2191.5,870 2194.1,875.1 2195.8,883.7 2200,892.2 2201.7,904.2 2203.4,912.7 2208.6,917.8 2210.3,926.3 2212,931.5" fill="none" stroke="#ff0000"/>
<path d="M2306.4,989.5 2306.4,1004.9" fill="none" stroke="#0000ff"/>
</g>
<rect x="2195.1" y="665.4" width="110.1" height="100.9" fill="#fff"/>
<g stroke="#000" shape-rendering="crispEdges"><line x1="2195.1" y1="665.4" x2="2195.1" y2="766.3" stroke-width="2"/><line x1="2194.1" y1="665.4" x2="2306.2" y2="665.4" stroke-width="1.5"/><line x1="2305.2" y1="665.4" x2="2305.2" y2="766.3" stroke-width="2"/><line x1="2194.1" y1="766.3" x2="2306.2" y2="766.3" stroke-width="2"/></g>
<text x="2211.2" y="719.9" font-size="51.5">H</text>
<text x="2247.7" y="742.9" font-size="42.5">66</text>
<text x="1759.7" y="684.2" font-size="51" text-anchor="end" letter-spacing="0.8">200</text>
<text x="1759.7" y="785.1" font-size="51" text-anchor="end" letter-spacing="0.8">100</text>
<text x="1759.7" y="888.8" font-size="51" text-anchor="end" letter-spacing="0.8">0</text>
<text x="1759.7" y="992.2" font-size="51" text-anchor="end" letter-spacing="0.8">-100</text>
<text x="1759.7" y="1095.6" font-size="51" text-anchor="end" letter-spacing="0.8">-200</text>
<text x="1737" y="1148.4" font-size="51">10</text>
<text x="1788.1" y="1114.4" font-size="36">0</text>
<text x="2005.2" y="1148.4" font-size="51">10</text>
<text x="2056.3" y="1114.4" font-size="36">1</text>
<text x="2272.7" y="1148.4" font-size="51">10</text>
<text x="2323.8" y="1114.4" font-size="36">2</text>
<text x="1885 1915.5 1931.5 1953.4 1979.1 2002.9 2023.5 2048.5 2067.7 2091.8 2106.9 2145.8 2164.5" y="1204.3" font-size="52">Frequency(Hz)</text>
<text transform="translate(1637.9 959.8) rotate(-90)" x="0 30.3 55.3 76.5 97.1 121.1 135.6 154.9" y="0" font-size="52">Phase(°)</text>
</g>
</svg></body></html>
